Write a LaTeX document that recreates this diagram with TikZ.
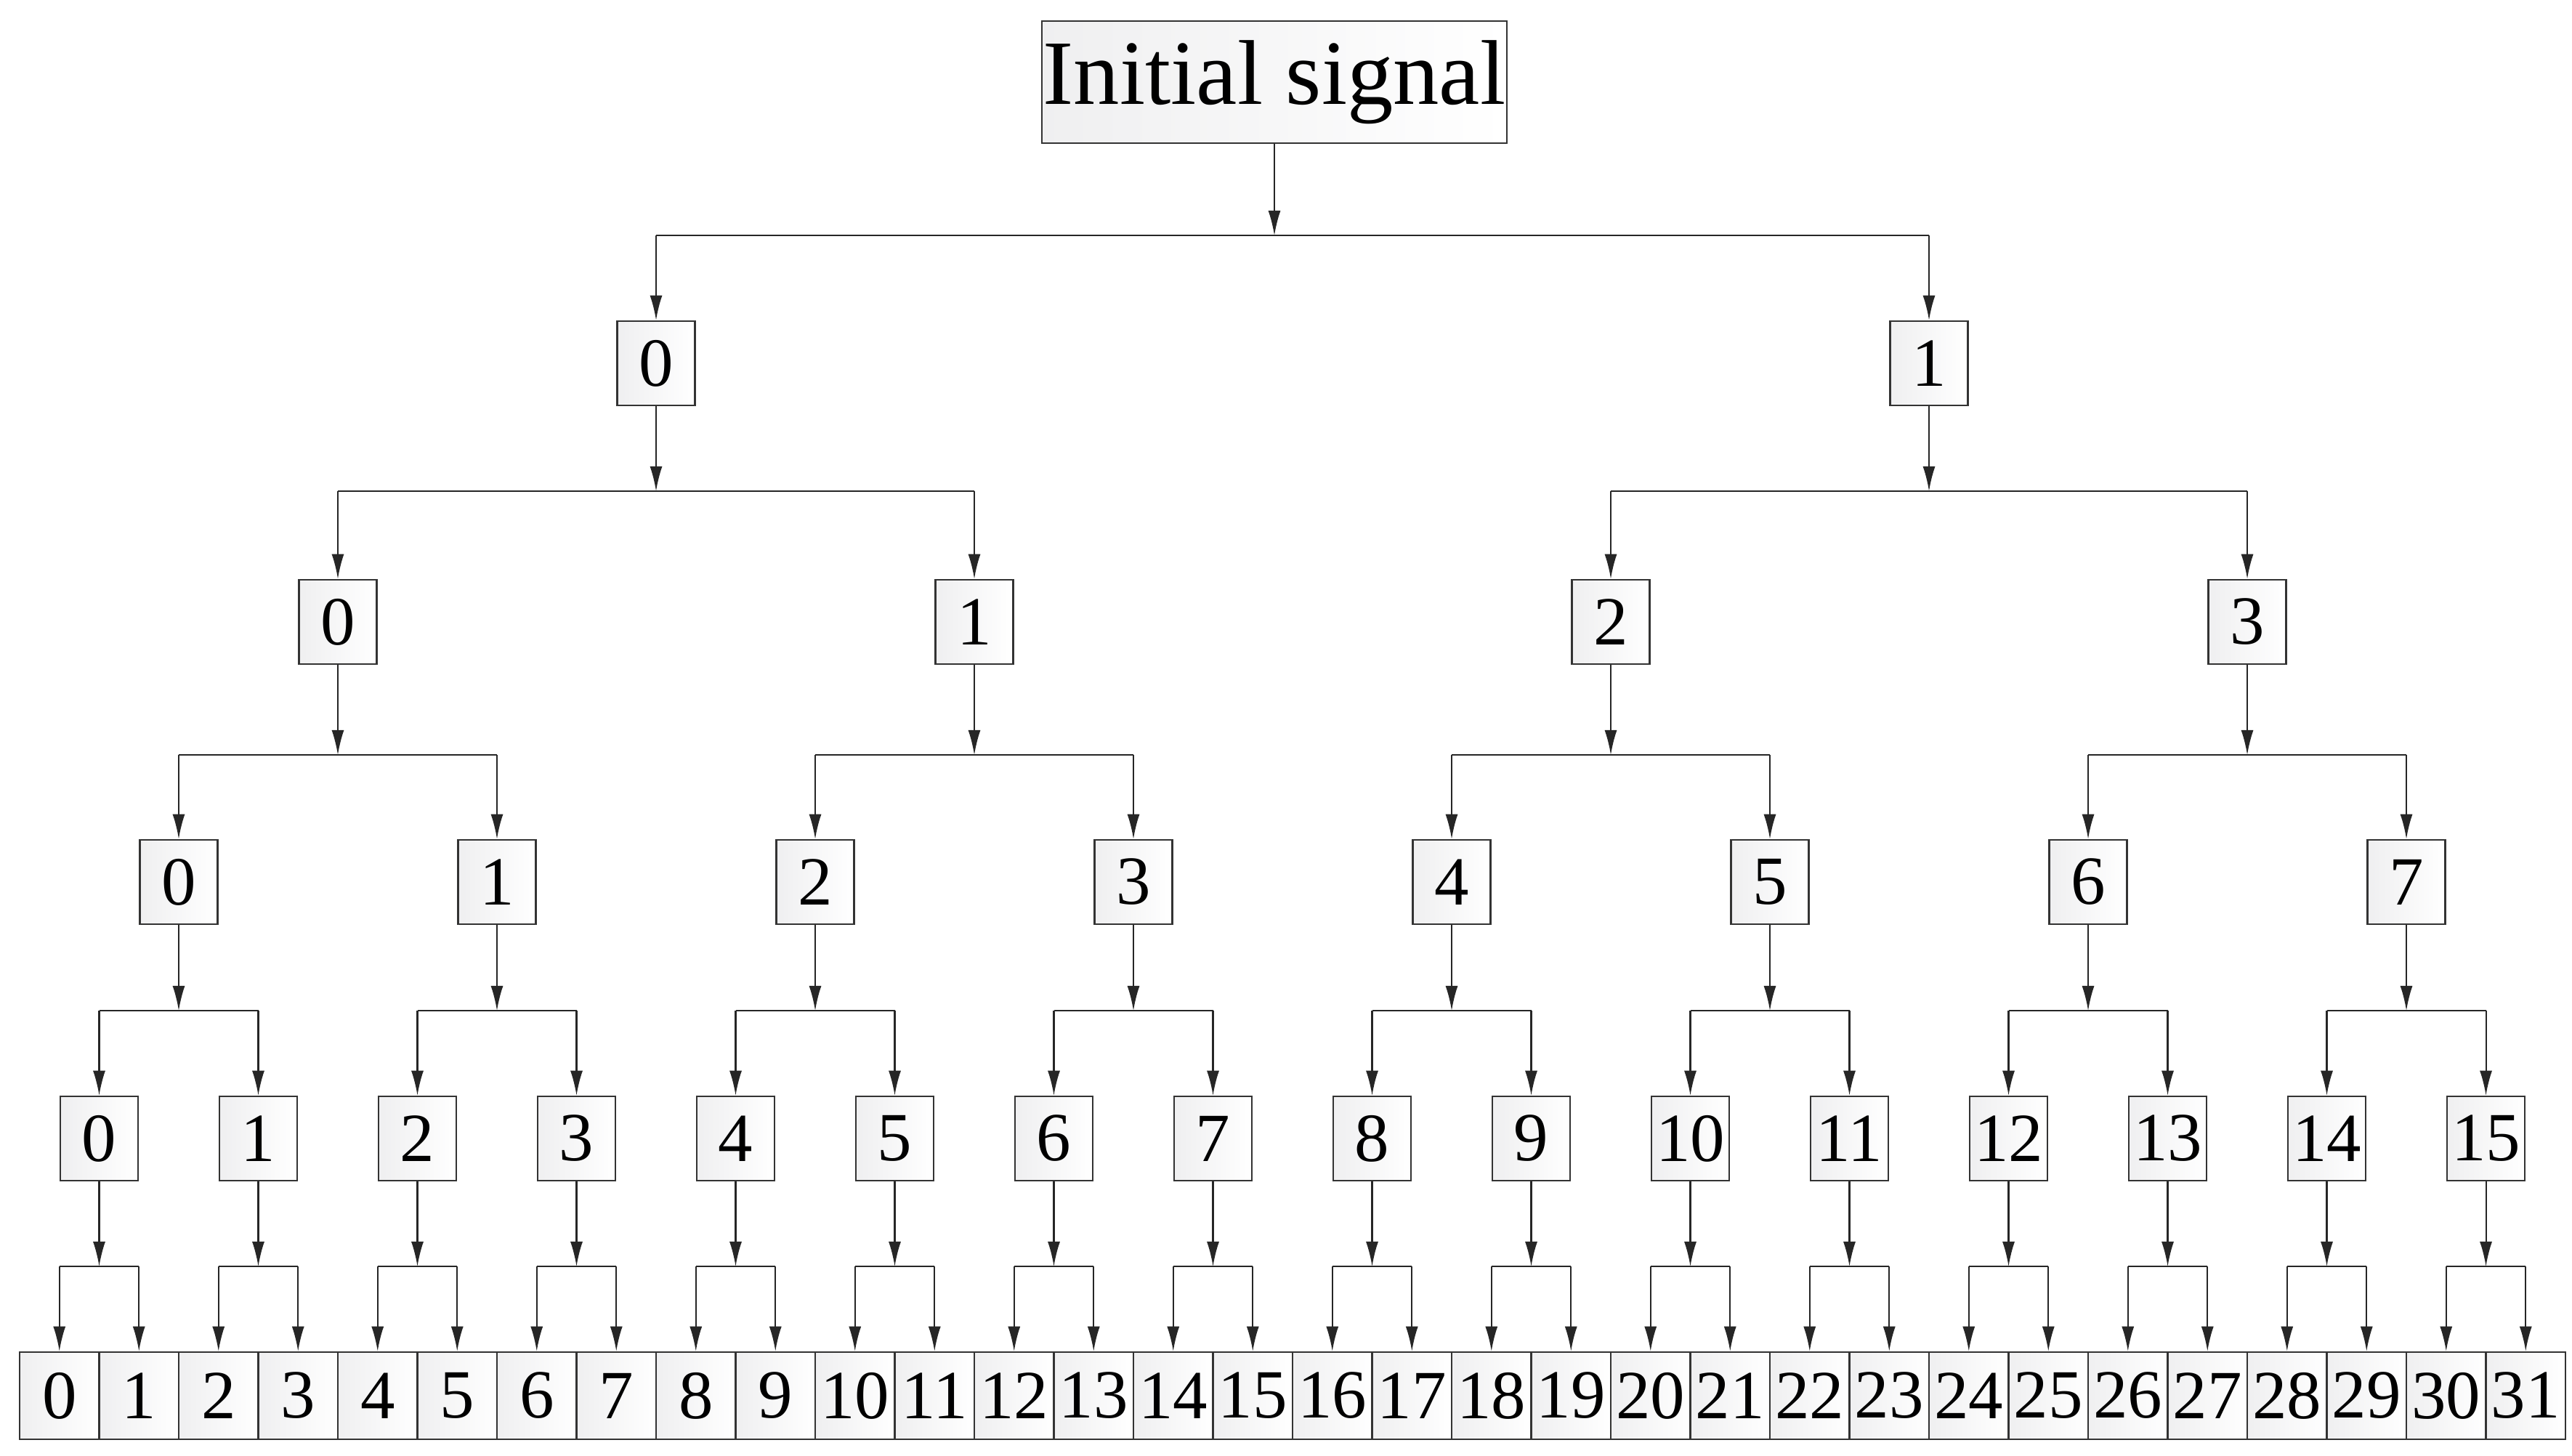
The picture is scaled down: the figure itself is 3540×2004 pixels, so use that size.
\documentclass[tikz,border=0pt]{standalone}
\usepackage{fontspec}
\setmainfont{Liberation Serif}
\usetikzlibrary{arrows.meta}
\tikzset{
 box/.style={draw=black!80,line width=0.7pt,left color=blue!4!gray!12,right color=white,minimum width=1.07cm,minimum height=1.16cm,inner sep=0pt,font=\fontsize{27}{30}\selectfont},
 leaf/.style={box,minimum width=1.095cm,minimum height=1.2cm},
 conn/.style={line width=0.6pt,black!85},
 arr/.style={conn,-{Latex[length=0.34cm,width=0.17cm]}}
}
\begin{document}
\begin{tikzpicture}[x=0.01cm,y=-0.01cm]
\useasboundingbox (0,0) rectangle (3540,2004);
\node[box,minimum width=6.4cm,minimum height=1.68cm,font=\fontsize{36}{40}\selectfont] (root) at (1754,113) {Initial signal};
\foreach \n/\yy in {1/500,2/856,3/1214,4/1567}{
  \pgfmathtruncatemacro{\cnt}{2^\n-1}
  \pgfmathsetmacro{\w}{109.5*2^(5-\n)}
  \foreach \j in {0,...,\cnt}{
    \node[box] (L\n-\j) at ({27+\w*(\j+0.5)},\yy) {\j};
  }
}
\foreach \j in {0,...,31}{
  \node[leaf] (L5-\j) at ({27+109.5*(\j+0.5)},1921) {\j};
}
\coordinate (b0) at (1754,324);
\draw[arr] (root.south) -- (b0);
\draw[conn] (L1-0 |- b0) -- (L1-1 |- b0);
\draw[arr] (L1-0 |- b0) -- (L1-0.north);
\draw[arr] (L1-1 |- b0) -- (L1-1.north);
\foreach \n/\by in {1/676,2/1039,3/1391,4/1743}{
  \pgfmathtruncatemacro{\cnt}{2^\n-1}
  \pgfmathtruncatemacro{\m}{\n+1}
  \foreach \j in {0,...,\cnt}{
    \pgfmathtruncatemacro{\a}{2*\j}
    \pgfmathtruncatemacro{\b}{2*\j+1}
    \coordinate (bar\n-\j) at (L\n-\j.south |- 0,\by);
    \draw[arr] (L\n-\j.south) -- (bar\n-\j);
    \draw[conn] (L\m-\a |- bar\n-\j) -- (L\m-\b |- bar\n-\j);
    \draw[arr] (L\m-\a |- bar\n-\j) -- (L\m-\a.north);
    \draw[arr] (L\m-\b |- bar\n-\j) -- (L\m-\b.north);
  }
}
\end{tikzpicture}
\end{document}
